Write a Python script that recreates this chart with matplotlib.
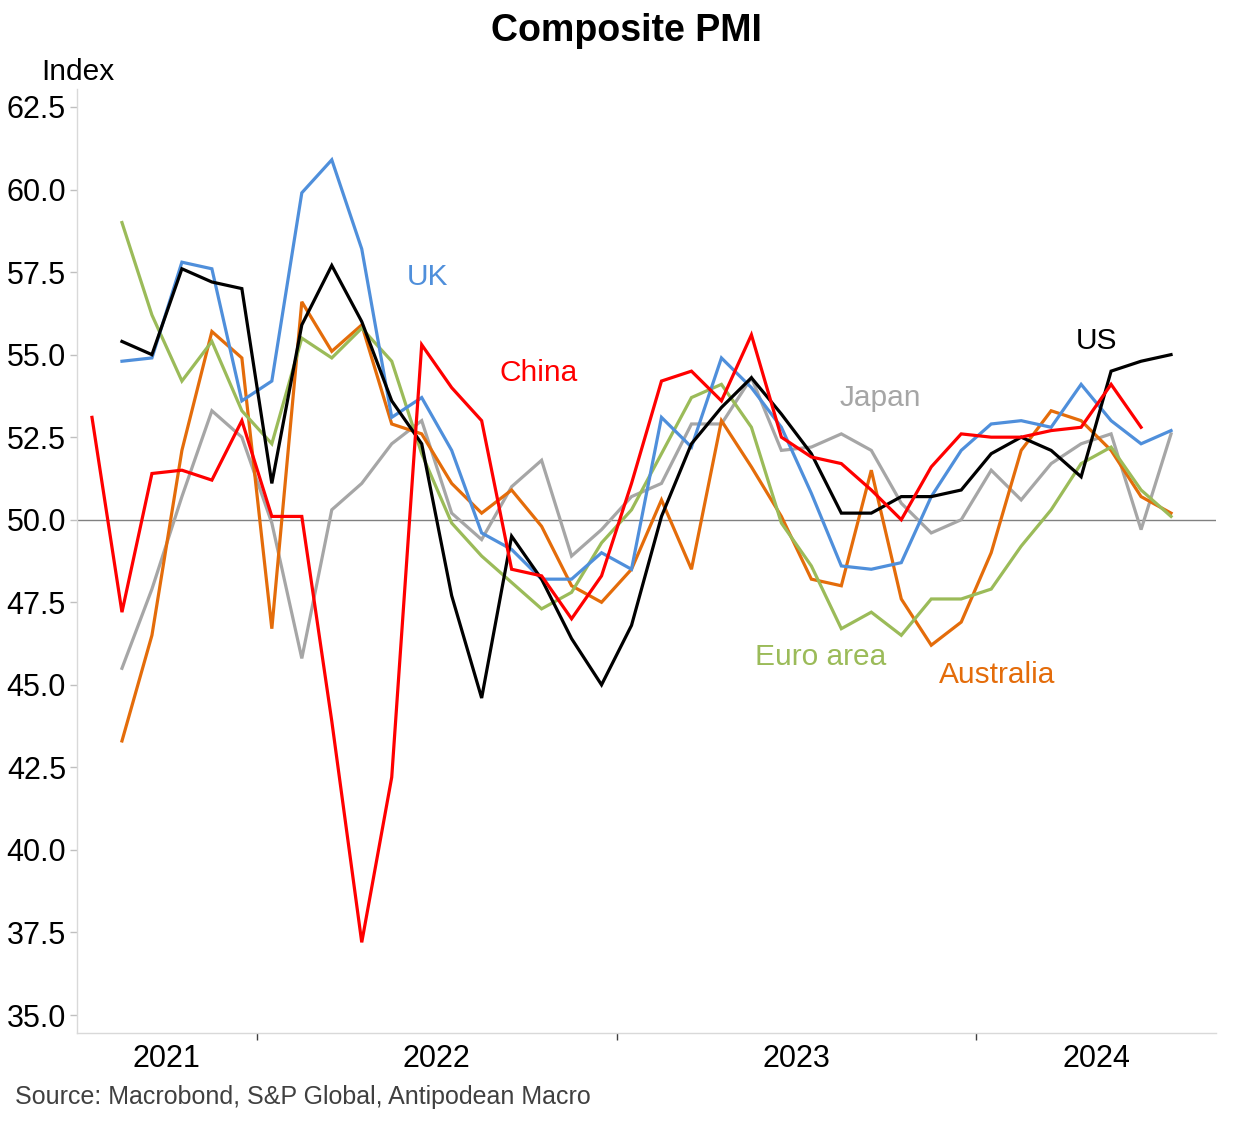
import numpy as np
import pandas as pd
import matplotlib
matplotlib.use('Agg')
import matplotlib.pyplot as plt

plt.rcParams['font.family'] = ['Liberation Sans', 'DejaVu Sans']

# monthly data, Jul 2021 .. Jul 2024
months = pd.period_range('2021-07', '2024-07', freq='M')

# China starts Jul 2021, ends Jun 2024
china = [53.1, 47.2, 51.4, 51.5, 51.2, 53.0, 50.1, 50.1, 43.9, 37.2, 42.2, 55.3,
         54.0, 53.0, 48.5, 48.3, 47.0, 48.3, 51.1, 54.2, 54.5, 53.6, 55.6, 52.5,
         51.9, 51.7, 50.9, 50.0, 51.6, 52.6, 52.5, 52.5, 52.7, 52.8, 54.1, 52.8]
# the rest start Aug 2021, end Jul 2024
us = [55.4, 55.0, 57.6, 57.2, 57.0, 51.1, 55.9, 57.7, 56.0, 53.6, 52.3, 47.7,
      44.6, 49.5, 48.2, 46.4, 45.0, 46.8, 50.1, 52.3, 53.4, 54.3, 53.2, 52.0,
      50.2, 50.2, 50.7, 50.7, 50.9, 52.0, 52.5, 52.1, 51.3, 54.5, 54.8, 55.0]
uk = [54.8, 54.9, 57.8, 57.6, 53.6, 54.2, 59.9, 60.9, 58.2, 53.1, 53.7, 52.1,
      49.6, 49.1, 48.2, 48.2, 49.0, 48.5, 53.1, 52.2, 54.9, 54.0, 52.8, 50.8,
      48.6, 48.5, 48.7, 50.7, 52.1, 52.9, 53.0, 52.8, 54.1, 53.0, 52.3, 52.7]
euro = [59.0, 56.2, 54.2, 55.4, 53.3, 52.3, 55.5, 54.9, 55.8, 54.8, 52.0, 49.9,
        48.9, 48.1, 47.3, 47.8, 49.3, 50.3, 52.0, 53.7, 54.1, 52.8, 49.9, 48.6,
        46.7, 47.2, 46.5, 47.6, 47.6, 47.9, 49.2, 50.3, 51.7, 52.2, 50.9, 50.1]
australia = [43.3, 46.5, 52.1, 55.7, 54.9, 46.7, 56.6, 55.1, 55.9, 52.9, 52.6, 51.1,
             50.2, 50.9, 49.8, 48.0, 47.5, 48.5, 50.6, 48.5, 53.0, 51.6, 50.1, 48.2,
             48.0, 51.5, 47.6, 46.2, 46.9, 49.0, 52.1, 53.3, 53.0, 52.1, 50.7, 50.2]
japan = [45.5, 47.9, 50.7, 53.3, 52.5, 49.9, 45.8, 50.3, 51.1, 52.3, 53.0, 50.2,
         49.4, 51.0, 51.8, 48.9, 49.7, 50.7, 51.1, 52.9, 52.9, 54.3, 52.1, 52.2,
         52.6, 52.1, 50.5, 49.6, 50.0, 51.5, 50.6, 51.7, 52.3, 52.6, 49.7, 52.6]

series = [
    ('Japan', japan, 1, '#A6A6A6', (26.3, 53.7)),
    ('Australia', australia, 1, '#E46C0A', (30.2, 45.3)),
    ('Euro area', euro, 1, '#9BBB59', (24.3, 45.85)),
    ('UK', uk, 1, '#4F8FDB', (11.2, 57.35)),
    ('US', us, 1, '#000000', (33.5, 55.4)),
    ('China', china, 0, '#FF0000', (14.9, 54.45)),
]

fig = plt.figure(figsize=(12.53, 11.22), dpi=100)
ax = fig.add_axes([77/1253, 1 - 1033/1122, (1216-77)/1253, (1033-89)/1122])

x_all = np.arange(len(months))
for name, vals, start, col, (tx, ty) in series:
    xs = x_all[start:start+len(vals)]
    ax.plot(xs, vals, color=col, lw=2.3, solid_joinstyle='miter', zorder=3)
    ax.text(tx, ty, name, color=col, fontsize=21.5, ha='center', va='center')

ax.axhline(50, color='#808080', lw=1, zorder=2)

ax.set_xlim(-0.5, len(months) + 0.5)
ax.set_ylim(34.455, 63.045)
ax.set_yticks(np.arange(35, 62.6, 2.5))
ax.set_yticklabels(['%.1f' % v for v in np.arange(35, 62.6, 2.5)])

# year boundaries as major ticks, year names centred on each span
bounds = [i - 0.5 for i, m in enumerate(months) if m.month == 1]
ax.set_xticks(bounds)
ax.set_xticklabels([])
edges = [-0.5] + bounds + [len(months) + 0.5]
centres = [(a + b) / 2 for a, b in zip(edges[:-1], edges[1:])]
years = ['2021', '2022', '2023', '2024']
ax.set_xticks(centres, minor=True)
ax.set_xticklabels(years, minor=True)
ax.tick_params(axis='x', which='major', length=5, width=1, color='#404040', direction='out')
ax.tick_params(axis='x', which='minor', length=0, pad=8, labelsize=22)
ax.tick_params(axis='y', length=5, width=1, color='#BFBFBF', pad=3, labelsize=22)

for s in ['top', 'right']:
    ax.spines[s].set_visible(False)
for s in ['left', 'bottom']:
    ax.spines[s].set_color('#D9D9D9')
    ax.spines[s].set_linewidth(1)

fig.text(0.5, 1 - 31/1122, 'Composite PMI', ha='center', va='center',
         fontsize=27, fontweight='bold')
fig.text(41/1253, 1 - 80/1122, 'Index', ha='left', va='baseline', fontsize=21.5)
fig.text(15/1253, 1 - 1097/1122, 'Source: Macrobond, S&P Global, Antipodean Macro',
         ha='left', va='center', fontsize=18, color='#404040')

fig.savefig('out.png', dpi=100)
